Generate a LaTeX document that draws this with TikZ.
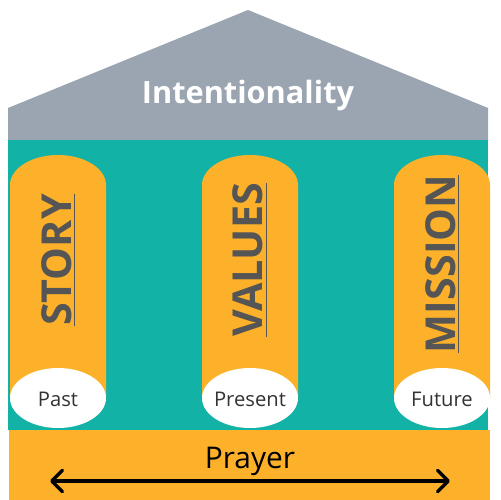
\documentclass[tikz,border=0pt]{standalone}
\usepackage{fontspec}
\setmainfont{Open Sans}
\usepackage{xcolor}
\usetikzlibrary{calc,arrows.meta}
\definecolor{roofgray}{HTML}{9AA5B1}
\definecolor{wallteal}{HTML}{13B2A6}
\definecolor{pillarorange}{HTML}{FDB12A}
\definecolor{wordgray}{HTML}{555555}
\begin{document}
\begin{tikzpicture}[x=0.02cm,y=-0.02cm]
        \tikzstyle{pillar}=[fill=pillarorange,draw=none]
        \tikzstyle{era}=[font=\fontsize{11.5}{14}\selectfont,text=black!80]
        \tikzstyle{theme}=[rotate=90,text=wordgray,font=\fontsize{23.5}{28}\selectfont\bfseries,inner sep=0pt]
        \useasboundingbox[fill=white] (0,0) rectangle (500,500);

        % roof, wall, base
        \fill[roofgray] (8,140) -- (8,108) -- (248,10) -- (488,108) -- (488,140) -- cycle;
        \fill[wallteal] (8,140) rectangle (488,430);
        \fill[pillar] (9,430) rectangle (490,500);
        \node[text=white,font=\fontsize{17.5}{20}\selectfont\bfseries] (roof) at (248,96) {Intentionality};

        % pillars
        \foreach \cx/\name/\word/\time/\ty in {58/story/STORY/Past/260,250/values/VALUES/Present/260,442/mission/MISSION/Future/264}{
            \fill[pillar] (\cx-48,398) -- (\cx-48,185) arc[start angle=180,end angle=0,x radius=48,y radius=-30] -- (\cx+48,398) -- cycle;
            \fill[white] (\cx,398) ellipse[x radius=48,y radius=30];
            \node[era] (\name-time) at (\cx,399) {\time};
            \node[theme] (\name) at (\cx,\ty) {\underline{\word}};
        }

        \node[font=\fontsize{17}{20}\selectfont,text=black] (prayer) at (250,461) {Prayer};
        \coordinate (left) at (50,481);
        \coordinate (right) at (450,481);
        \draw[line width=2pt,line cap=round,{Straight Barb[length=6pt,width=12pt,line cap=round,line join=round]}-{Straight Barb[length=6pt,width=12pt,line cap=round,line join=round]}] (left) -- (right);
    \end{tikzpicture}
\end{document}
